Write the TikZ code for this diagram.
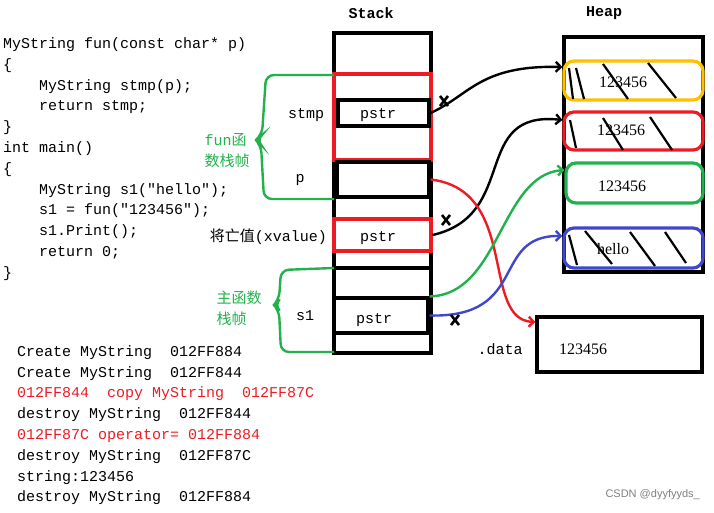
\documentclass[tikz,border=0pt]{standalone}
\usetikzlibrary{arrows.meta}
\usepackage{fontspec}
\setmainfont{Liberation Serif}
\newfontfamily\cjk{Noto Sans CJK SC}
\newfontfamily\mono{Liberation Mono}
\newfontfamily\sansf{Liberation Sans}
\definecolor{gr}{RGB}{34,177,76}
\definecolor{rd}{RGB}{237,28,36}
\definecolor{yl}{RGB}{255,192,0}
\definecolor{bl}{RGB}{63,72,204}
\begin{document}
\begin{tikzpicture}[x=1pt,y=-1pt,
  code/.style={anchor=west,inner sep=0,font=\mono\fontsize{15}{15}\selectfont},
  lbl/.style={inner sep=0,font=\mono\fontsize{15}{15}\selectfont},
  box/.style={draw,line width=3.2pt},
  hb/.style={draw,line width=3.2pt,rounded corners=10pt},
  br/.style={draw=gr,line width=2.4pt,rounded corners=8pt},
  arr/.style={line width=2.4pt,-{Straight Barb[length=5pt,width=10pt]}},
  hatch/.style={line width=2.2pt},
  xm/.style={line width=2.6pt}]
\useasboundingbox[fill=white] (0,0) rectangle (714,513);
% code
\foreach \t [count=\i from 0] in {MyString fun(const char* p),\{,{\ \ \ \ MyString stmp(p);},{\ \ \ \ return stmp;},\},int main(),\{,{\ \ \ \ MyString s1("hello");},{\ \ \ \ s1 = fun("123456");},{\ \ \ \ s1.Print();},{\ \ \ \ return 0;},\}}
  \node[code] (c\i) at (3,{45+20.75*\i}) {\t};
\node[code] (o1) at (17,353) {Create MyString\ \ 012FF884};
\node[code] (o2) at (17,374) {Create MyString\ \ 012FF844};
\node[code,text=rd] (o3) at (17,394) {012FF844\ \ copy MyString\ \ 012FF87C};
\node[code] (o4) at (17,415) {destroy MyString\ \ 012FF844};
\node[code,text=rd] (o5) at (17,436) {012FF87C operator= 012FF884};
\node[code] (o6) at (17,457) {destroy MyString\ \ 012FF87C};
\node[code] (o7) at (17,478) {string:123456};
\node[code] (o8) at (17,498) {destroy MyString\ \ 012FF884};
% titles
\node[lbl,font=\mono\bfseries\fontsize{15}{15}\selectfont] (st) at (371,13) {Stack};
\node[lbl,font=\mono\bfseries\fontsize{15}{15}\selectfont] (hp) at (604,13) {Heap};
% stack
\draw[box] (334,33) rectangle (431,353);
\draw[box] (334,197) -- (431,197);
\draw[box] (334,268) -- (431,268);
\draw[box] (334,333) -- (431,333);
\draw[line width=3.2pt,draw=rd] (334,74) rectangle (431,160);
\node[box,minimum width=91pt,minimum height=26pt,inner sep=0] (pstr1) at (383.5,113) {};
\node[lbl] at (378,115) {pstr};
\node[box,minimum width=92pt,minimum height=35pt,inner sep=0] (pbox) at (383,179.5) {};
\node[draw=rd,line width=3.2pt,minimum width=97pt,minimum height=32pt,inner sep=0] (pstr2) at (382.5,235) {};
\node[lbl] at (378,238) {pstr};
\node[box,minimum width=94pt,minimum height=35pt,inner sep=0] (pstr3) at (381,315.5) {};
\node[lbl] at (374,320) {pstr};
% labels
\node[lbl] (lstmp) at (306,115) {stmp};
\node[lbl] (lp) at (300,180) {p};
\node[lbl] (ls1) at (305,316) {s1};
\node[inner sep=0,font=\fontsize{15}{15}\selectfont,anchor=east] (xv) at (327,237) {{\cjk 将亡值}{\mono (xvalue)}};
\node[inner sep=0,text=gr,font=\cjk\fontsize{15}{21}\selectfont,align=left] (fl) at (227,151) {{\mono fun}函\\数栈帧};
\node[inner sep=0,text=gr,font=\cjk\fontsize{15}{21}\selectfont,align=left] (ml) at (239,308) {主函数\\栈帧};
% braces
\draw[br] (334,75) -- (266,75) -- (262,135) -- (256,140) -- (261,145) -- (264,199) -- (334,199);
\draw[br] (334,268) -- (281,270) -- (279,300) -- (274,305) -- (279,310) -- (281,352) -- (334,352);
% heap
\draw[box] (564,37) rectangle (703,272);
\node[hb,draw=yl,minimum width=139pt,minimum height=39pt,inner sep=0] (h1) at (633.5,80.5) {};
\node[hb,draw=rd,minimum width=139pt,minimum height=38pt,inner sep=0] (h2) at (633.5,131) {};
\node[hb,draw=gr,minimum width=137pt,minimum height=40pt,inner sep=0] (h3) at (634.5,183) {};
\node[hb,draw=bl,minimum width=139pt,minimum height=40pt,inner sep=0] (h4) at (633.5,248) {};
\node[lbl,font=\fontsize{16}{16}\selectfont] at (623,82) {123456};
\node[lbl,font=\fontsize{16}{16}\selectfont] at (621,130) {123456};
\node[lbl,font=\fontsize{16}{16}\selectfont] at (622,186) {123456};
\node[lbl,font=\fontsize{16}{16}\selectfont] at (613,249) {hello};
% hatches
\foreach \a/\b/\c/\d in {569/68/573/99, 576/68/584/99, 603/64/628/99, 648/63/676/98,
   570/120/576/148, 603/118/623/150, 650/117/672/150,
   569/235/577/265, 585/231/612/264, 630/232/655/266, 665/232/686/263}
  \draw[hatch] (\a,\b) -- (\c,\d);
% data
\node[box,minimum width=165pt,minimum height=55pt,inner sep=0] (data) at (619.5,344.5) {};
\node[lbl,font=\fontsize{16}{16}\selectfont] at (583,349) {123456};
\node[lbl] (ld) at (500,349) {.data};
% arrows
\draw[arr] (pstr1.east) .. controls (470,95) and (480,65) .. (h1.west|-0,67);
\draw[arr] (pstr2.east) .. controls (520,215) and (470,110) .. (h2.west|-0,120);
\draw[arr,draw=rd] (pbox.east) .. controls (520,190) and (480,320) .. (data.west|-0,322);
\draw[arr,draw=gr] (pstr3.north east) .. controls (500,295) and (500,175) .. (h3.west|-0,170);
\draw[arr,draw=bl] (pstr3.east) .. controls (530,318) and (490,235) .. (h4.west|-0,236);
\coordinate (x1) at (444,101);
\coordinate (x2) at (446,220);
\coordinate (x3) at (455,320);
\foreach \c in {x1,x2,x3}
  \draw[xm] ([shift={(-4,-5)}]\c) -- ([shift={(4,5)}]\c) ([shift={(4,-5)}]\c) -- ([shift={(-4,5)}]\c);
% watermark
\node[inner sep=0,text=gray,font=\sansf\fontsize{11}{11}\selectfont,anchor=east] (wm) at (700,495) {CSDN @dyyfyyds\_};
\end{tikzpicture}
\end{document}
